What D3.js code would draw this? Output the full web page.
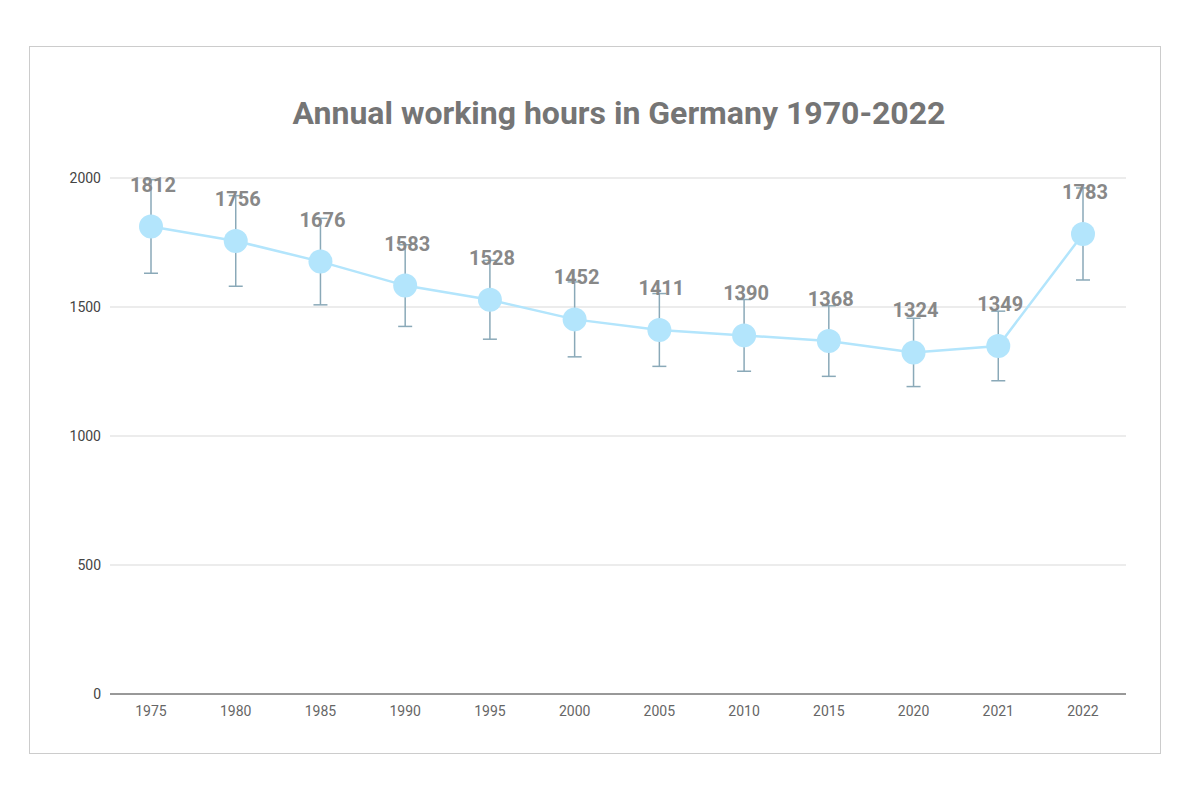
<!DOCTYPE html>
<html>
<head>
<meta charset="utf-8">
<style>
  body { margin: 0; background: #fff; }
  text { font-family: Roboto, Arial, sans-serif; }
</style>
</head>
<body>
<script src="https://d3js.org/d3.v7.min.js"></script>
<script>
    var years = ['1975', '1980', '1985', '1990', '1995', '2000', '2005', '2010', '2015', '2020', '2021', '2022'];
    var hours = [1812, 1756, 1676, 1583, 1528, 1452, 1411, 1390, 1368, 1324, 1349, 1783];
    var yTicks = [0, 500, 1000, 1500, 2000];
    var errorPct = 0.1;

    var svg = d3.select('body').append('svg')
        .attr('width', 1200)
        .attr('height', 810);

    svg.append('rect')
        .attr('x', 29.5).attr('y', 46.5)
        .attr('width', 1131).attr('height', 707)
        .attr('fill', '#fff').attr('stroke', '#ccc');

    svg.append('text')
        .attr('x', 619).attr('y', 124)
        .attr('text-anchor', 'middle')
        .attr('font-size', 32).attr('font-weight', 700)
        .attr('fill', '#757575')
        .text('Annual working hours in Germany 1970-2022');

    var x = d3.scalePoint().domain(years).range([151, 1083]);
    var y = d3.scaleLinear().domain([0, 2000]).range([694, 178]);

    // gridlines
    svg.selectAll('.grid').data(yTicks.slice(1)).enter().append('line')
        .attr('x1', 110).attr('x2', 1126)
        .attr('y1', function (d) { return y(d); })
        .attr('y2', function (d) { return y(d); })
        .attr('stroke', '#d9d9d9');

    svg.append('line')
        .attr('x1', 110).attr('x2', 1126)
        .attr('y1', y(0)).attr('y2', y(0))
        .attr('stroke', '#333');

    svg.selectAll('.ylab').data(yTicks).enter().append('text')
        .attr('x', 101)
        .attr('y', function (d) { return y(d) + 5; })
        .attr('text-anchor', 'end')
        .attr('font-size', 14).attr('fill', '#444')
        .text(function (d) { return d; });

    svg.selectAll('.xlab').data(years).enter().append('text')
        .attr('x', function (d) { return x(d); })
        .attr('y', 716)
        .attr('text-anchor', 'middle')
        .attr('font-size', 14).attr('fill', '#666')
        .text(function (d) { return d; });

    var pts = years.map(function (d, i) { return { year: d, v: hours[i] }; });

    // error bars
    var eb = svg.selectAll('.eb').data(pts).enter().append('g').attr('stroke', '#8aa9b8').attr('stroke-width', 1.5);
    eb.append('line')
        .attr('x1', function (d) { return x(d.year); })
        .attr('x2', function (d) { return x(d.year); })
        .attr('y1', function (d) { return y(d.v * (1 + errorPct)); })
        .attr('y2', function (d) { return y(d.v * (1 - errorPct)); });
    eb.append('line')
        .attr('x1', function (d) { return x(d.year) - 7; })
        .attr('x2', function (d) { return x(d.year) + 7; })
        .attr('y1', function (d) { return y(d.v * (1 - errorPct)); })
        .attr('y2', function (d) { return y(d.v * (1 - errorPct)); });
    eb.append('line')
        .attr('x1', function (d) { return x(d.year) - 7; })
        .attr('x2', function (d) { return x(d.year) + 7; })
        .attr('y1', function (d) { return y(d.v * (1 + errorPct)); })
        .attr('y2', function (d) { return y(d.v * (1 + errorPct)); });

    svg.append('path')
        .datum(pts)
        .attr('fill', 'none')
        .attr('stroke', '#b3e5fc')
        .attr('stroke-width', 2.5)
        .attr('d', d3.line().x(function (d) { return x(d.year); }).y(function (d) { return y(d.v); }));

    svg.selectAll('.dot').data(pts).enter().append('circle')
        .attr('cx', function (d) { return x(d.year); })
        .attr('cy', function (d) { return y(d.v); })
        .attr('r', 12)
        .attr('fill', '#b3e5fc');

    svg.selectAll('.lab').data(pts).enter().append('text')
        .attr('x', function (d) { return x(d.year) + 2; })
        .attr('y', function (d) { return y(d.v) - 35; })
        .attr('text-anchor', 'middle')
        .attr('font-size', 20).attr('font-weight', 700)
        .attr('fill', '#888')
        .text(function (d) { return d.v; });
</script>
</body>
</html>
